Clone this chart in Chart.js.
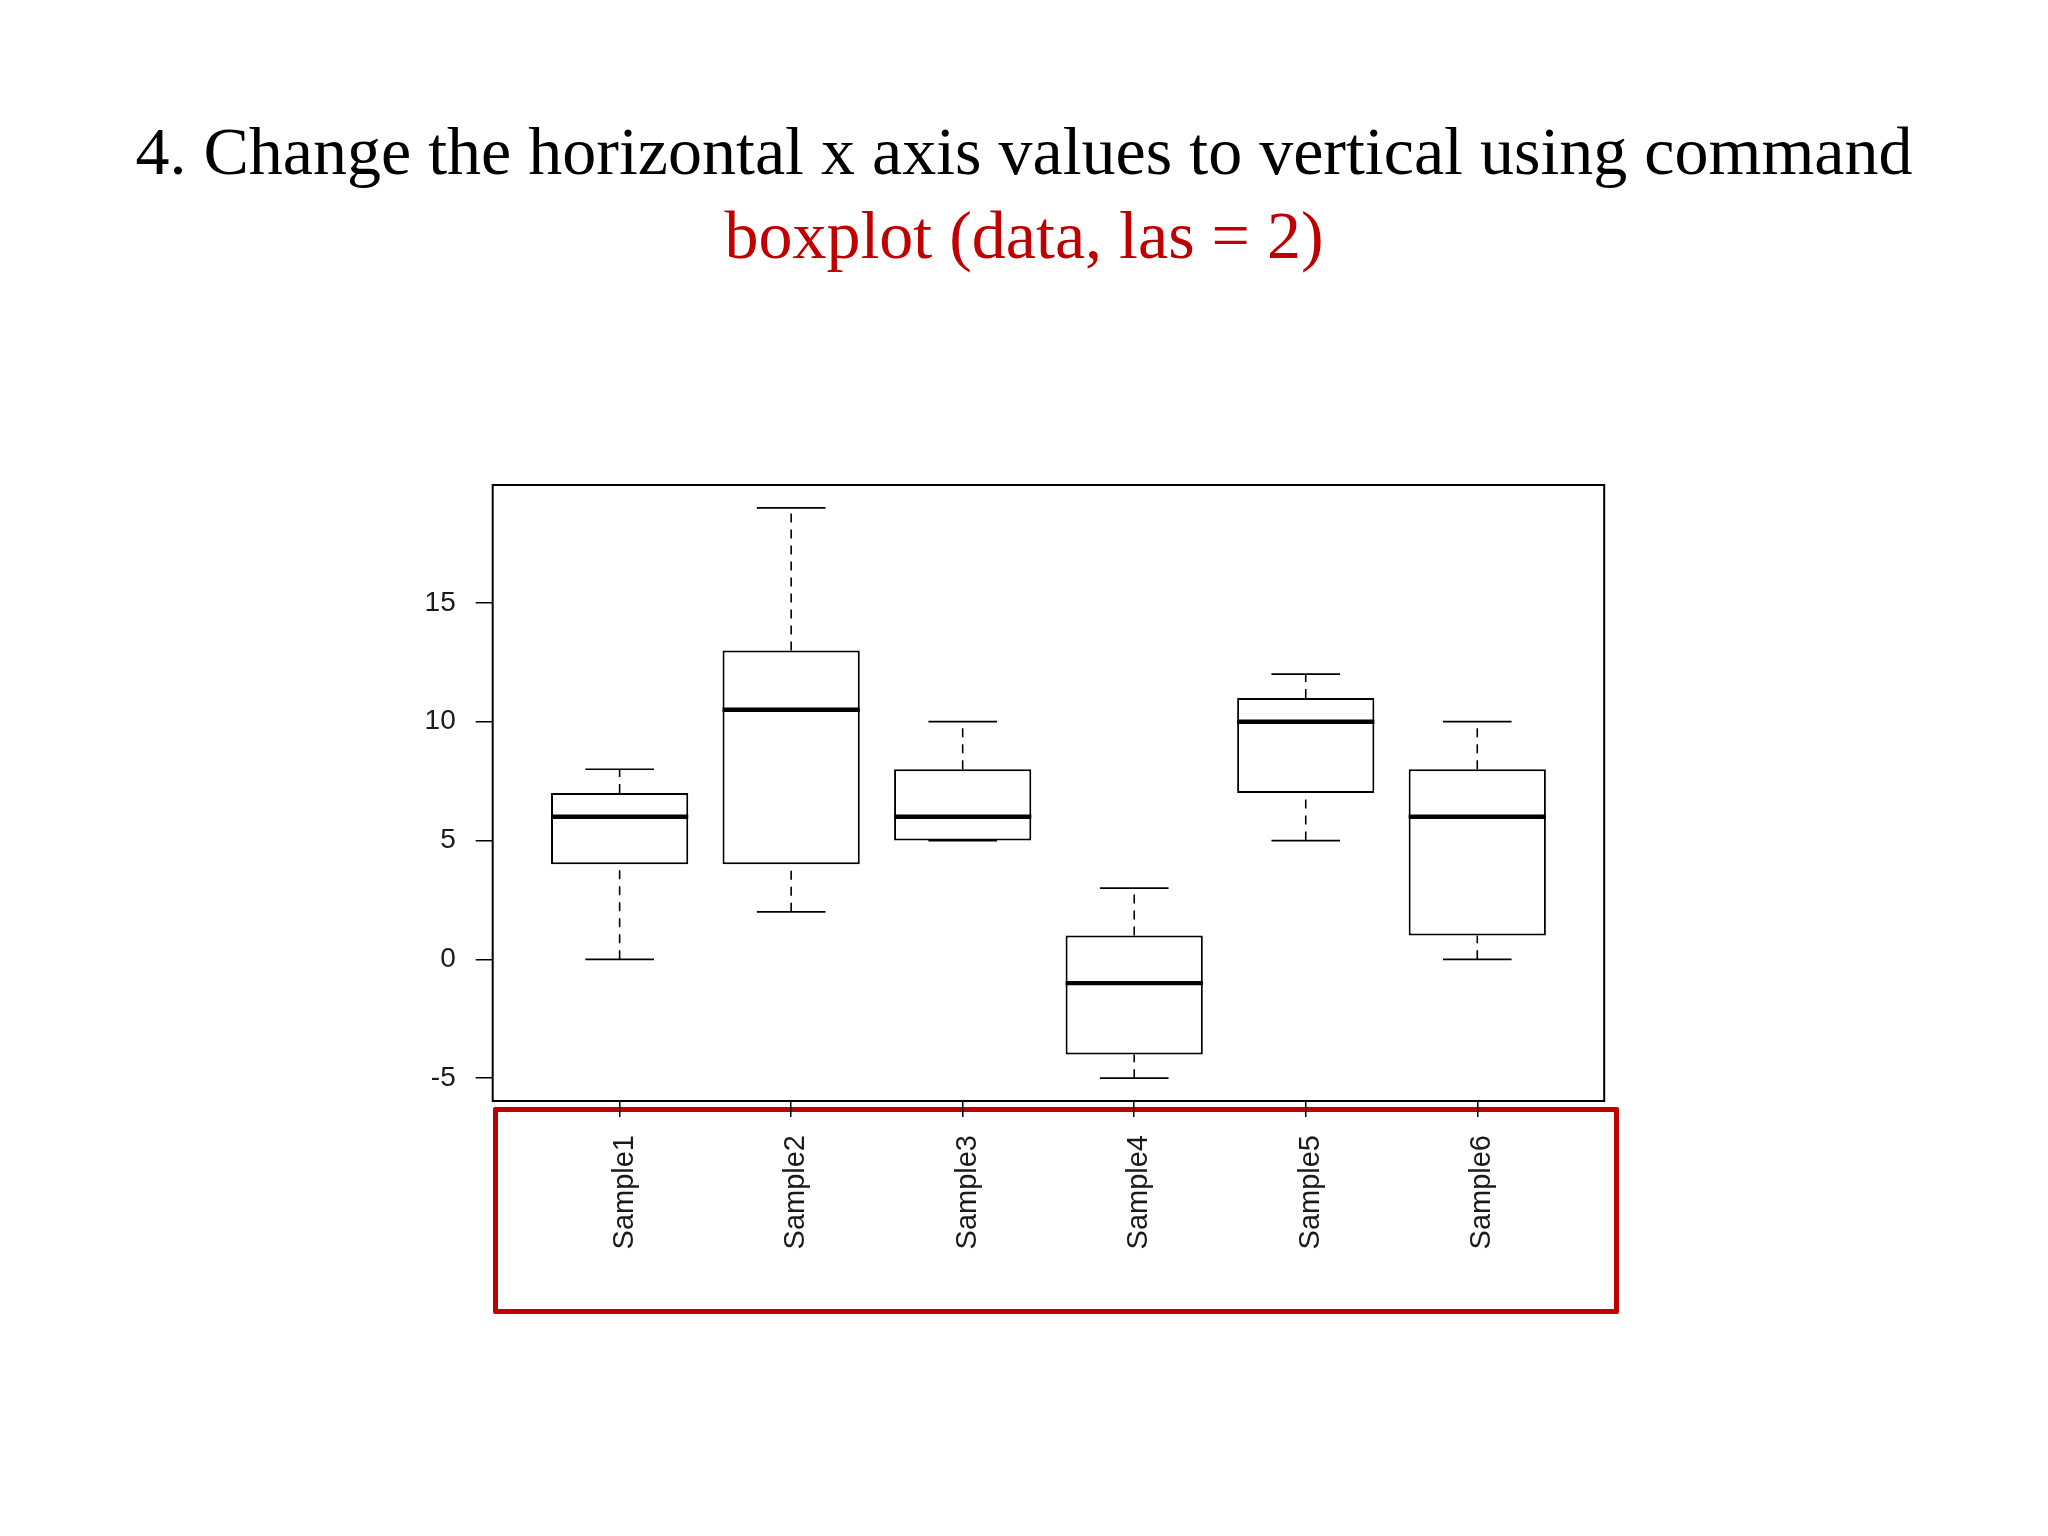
<!DOCTYPE html>
<html>
<head>
<meta charset="utf-8">
<script src="https://cdn.jsdelivr.net/npm/chart.js@4.4.1/dist/chart.umd.min.js"></script>
<style>
html, body { margin: 0; padding: 0; background: #ffffff; }
#wrap { position: relative; width: 2048px; height: 1536px; overflow: hidden; background: #ffffff; }
.t { position: absolute; left: 0; width: 2048px; text-align: center; white-space: nowrap;
     font-family: "Liberation Serif", "Times New Roman", serif; font-size: 68px; line-height: 68px; }
#t1 { top: 117px; color: #000000; }
#t2 { top: 201px; color: #c00000; }
#hl { position: absolute; left: 493px; top: 1107px; width: 1126px; height: 207px;
      border: 5.5px solid #c00000; box-sizing: border-box; border-radius: 2px; }
#c { position: absolute; left: 0; top: 0; }
</style>
</head>
<body>
<div id="wrap">
  <div class="t" id="t1">4. Change the horizontal x axis values to vertical using command</div>
  <div class="t" id="t2">boxplot (data, las = 2)</div>
  <div id="hl"></div>
  <canvas id="c" width="2048" height="1536"></canvas>
</div>
<script>
// ---- data ----
const categories  = ["Sample1", "Sample2", "Sample3", "Sample4", "Sample5", "Sample6"];
const whiskerLow  = [0, 2, 5, -5, 5, 0];
const q1          = [4, 4, 5, -4, 7, 1];
const medians     = [6, 10.5, 6, -1, 10, 6];
const q3          = [7, 13, 8, 1, 11, 8];
const whiskerHigh = [8, 19, 10, 3, 12, 10];
const yTickValues = [-5, 0, 5, 10, 15];
const yRange      = [-5.96, 19.96];
const xRange      = [0.26, 6.74];

// ---- style constants ----
const BOX_HALF = 0.4;
const CAP_HALF = 0.2;
const FONT_Y = { family: "'Liberation Sans', Arial, Helvetica, sans-serif", size: 28 };
const FONT_X = { family: "'Liberation Sans', Arial, Helvetica, sans-serif", size: 29 };
const TICK_COLOR = '#1a1a1a';

// ---- datasets built from the arrays ----
const boxData = categories.map((c, i) => ({ x: i + 1, y: [q1[i], q3[i]] }));

const medianData = [];
const whiskerData = [];
const capData = [];
categories.forEach((c, i) => {
  const x = i + 1;
  medianData.push({ x: x - BOX_HALF, y: medians[i] }, { x: x + BOX_HALF, y: medians[i] }, { x: x + BOX_HALF, y: null });
  whiskerData.push({ x: x, y: q3[i] }, { x: x, y: whiskerHigh[i] }, { x: x, y: null },
                   { x: x, y: whiskerLow[i] }, { x: x, y: q1[i] }, { x: x, y: null });
  capData.push({ x: x - CAP_HALF, y: whiskerHigh[i] }, { x: x + CAP_HALF, y: whiskerHigh[i] }, { x: x + CAP_HALF, y: null },
               { x: x - CAP_HALF, y: whiskerLow[i] }, { x: x + CAP_HALF, y: whiskerLow[i] }, { x: x + CAP_HALF, y: null });
});

const lineCommon = { type: 'line', pointRadius: 0, pointHoverRadius: 0, tension: 0, spanGaps: false, fill: false, borderColor: '#000000', order: 1 };

const framePlugin = {
  id: 'frame',
  afterDatasetsDraw(chart) {
    const { ctx, chartArea: a } = chart;
    ctx.save();
    ctx.strokeStyle = '#000000';
    ctx.lineWidth = 2;
    ctx.strokeRect(a.left, a.top, a.right - a.left, a.bottom - a.top);
    ctx.restore();
  }
};

const Y_AXIS_W = 120;
const X_AXIS_H = 200;

new Chart(document.getElementById('c'), {
  type: 'bar',
  data: {
    datasets: [
      Object.assign({}, lineCommon, { label: 'median', data: medianData, borderWidth: 4.4, order: 0 }),
      Object.assign({}, lineCommon, { label: 'whiskers', data: whiskerData, borderWidth: 1.6, borderDash: [9, 7] }),
      Object.assign({}, lineCommon, { label: 'staples', data: capData, borderWidth: 1.7 }),
      {
        type: 'bar', label: 'box', data: boxData,
        backgroundColor: '#ffffff', borderColor: '#000000', borderWidth: 2, borderSkipped: false,
        barPercentage: 0.8, categoryPercentage: 1.0, order: 5
      }
    ]
  },
  options: {
    responsive: false,
    animation: false,
    events: [],
    layout: { padding: { left: 492.7 - Y_AXIS_W, top: 485, right: 2048 - 1604.2, bottom: 1536 - 1101 - X_AXIS_H } },
    plugins: { legend: { display: false }, tooltip: { enabled: false }, title: { display: false } },
    scales: {
      x: {
        type: 'linear', min: xRange[0], max: xRange[1], offset: false,
        afterBuildTicks: (axis) => { axis.ticks = categories.map((c, i) => ({ value: i + 1 })); },
        afterFit: (axis) => { axis.height = X_AXIS_H; },
        ticks: {
          autoSkip: false, minRotation: 90, maxRotation: 90, padding: 18, labelOffset: 5,
          font: FONT_X, color: TICK_COLOR,
          callback: (v) => categories[Math.round(v) - 1] || ''
        },
        grid: { display: true, offset: false, drawOnChartArea: false, drawTicks: true, tickLength: 16, color: '#000000', lineWidth: 1.5 },
        border: { display: false }
      },
      y: {
        type: 'linear', min: yRange[0], max: yRange[1],
        afterBuildTicks: (axis) => { axis.ticks = yTickValues.map(v => ({ value: v })); },
        afterFit: (axis) => { axis.width = Y_AXIS_W; },
        ticks: { padding: 20, font: FONT_Y, color: TICK_COLOR, callback: (v) => String(v) },
        grid: { display: true, drawOnChartArea: false, drawTicks: true, tickLength: 17, color: '#000000', lineWidth: 1.5 },
        border: { display: false }
      }
    }
  },
  plugins: [framePlugin]
});
</script>
</body>
</html>
